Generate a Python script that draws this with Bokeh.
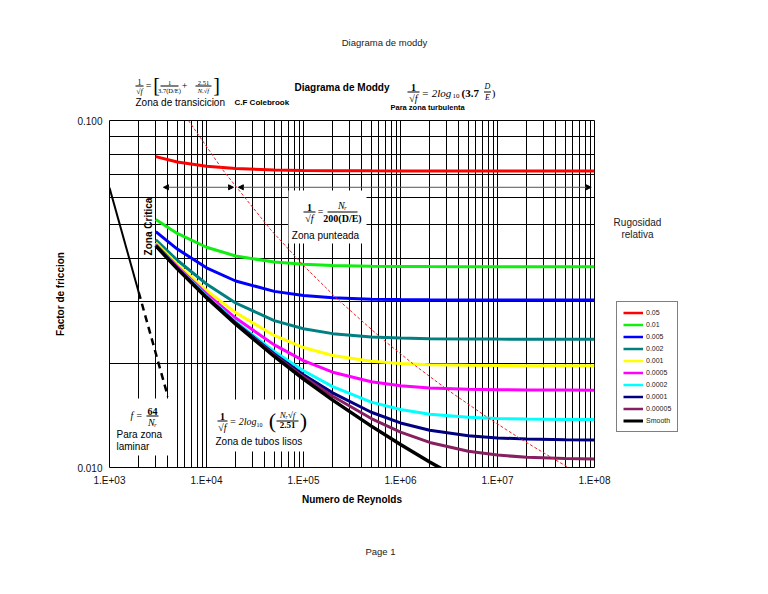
from bokeh.plotting import figure
from bokeh.layouts import column, row
from bokeh.models import (Range1d, FixedTicker, CustomJSTickFormatter, Label, BoxAnnotation,
                          Arrow, NormalHead, Legend, LegendItem)
from bokeh.embed import file_html
from bokeh.resources import INLINE

# ---------------- data ----------------
reynolds = [3000, 5000, 1e4, 2e4, 5e4, 1e5, 2e5, 5e5, 1e6, 2e6, 5e6, 1e7, 2e7, 5e7, 1e8]

series_names = ["0.05", "0.01", "0.005", "0.002", "0.001", "0.0005", "0.0002", "0.0001", "0.00005", "Smooth"]

f_0_05 = [0.07867, 0.07594, 0.07380, 0.07269, 0.07201, 0.07178, 0.07167, 0.07160, 0.07158, 0.07157, 0.07157, 0.07157, 0.07156, 0.07156, 0.07156]
f_0_01 = [0.05187, 0.04726, 0.04313, 0.04070, 0.03908, 0.03850, 0.03821, 0.03803, 0.03796, 0.03793, 0.03792, 0.03791, 0.03791, 0.03791, 0.03791]
f_0_005 = [0.04784, 0.04261, 0.03763, 0.03447, 0.03218, 0.03131, 0.03085, 0.03056, 0.03047, 0.03042, 0.03039, 0.03038, 0.03037, 0.03037, 0.03037]
f_0_002 = [0.04529, 0.03956, 0.03379, 0.02979, 0.02650, 0.02511, 0.02431, 0.02379, 0.02361, 0.02351, 0.02346, 0.02344, 0.02343, 0.02342, 0.02342]
f_0_001 = [0.04441, 0.03849, 0.03238, 0.02794, 0.02402, 0.02217, 0.02103, 0.02024, 0.01994, 0.01979, 0.01970, 0.01967, 0.01965, 0.01964, 0.01964]
f_0_0005 = [0.04397, 0.03794, 0.03164, 0.02695, 0.02256, 0.02033, 0.01882, 0.01766, 0.01721, 0.01696, 0.01680, 0.01675, 0.01673, 0.01672, 0.01671]
f_0_0002 = [0.04372, 0.03760, 0.03119, 0.02631, 0.02159, 0.01900, 0.01710, 0.01543, 0.01469, 0.01424, 0.01395, 0.01384, 0.01379, 0.01375, 0.01374]
f_0_0001 = [0.04361, 0.03752, 0.03104, 0.02610, 0.02124, 0.01851, 0.01641, 0.01443, 0.01344, 0.01280, 0.01234, 0.01217, 0.01208, 0.01202, 0.01200]
f_0_00005 = [0.04356, 0.03745, 0.03097, 0.02599, 0.02107, 0.01825, 0.01604, 0.01384, 0.01265, 0.01181, 0.01114, 0.01086, 0.01070, 0.01061, 0.01058]
f_smooth = [0.04353, 0.03738, 0.03087, 0.02589, 0.02089, 0.01799, 0.01564, 0.01316, 0.011645, 0.010373, 0.00898, 0.00810, 0.00734, 0.00649, 0.00594]

laminar_re = [1000, 2000]
laminar_f = [0.064, 0.032]
laminar_ext_re = [2000, 4000]
laminar_ext_f = [0.032, 0.016]

boundary_re = [6513, 14953, 45344, 102720, 229536, 653440, 1427280, 3095360, 8534400, 18272800, 38953600, 54000000]
boundary_f = [0.1000, 0.0716, 0.04864, 0.0379, 0.03037, 0.02342, 0.019635, 0.0167, 0.01373, 0.01198, 0.010544, 0.0100]

x_ticks = [1e3, 1e4, 1e5, 1e6, 1e7, 1e8]
x_tick_labels = ["1.E+03", "1.E+04", "1.E+05", "1.E+06", "1.E+07", "1.E+08"]
x_minor = [2e3, 3e3, 4e3, 5e3, 6e3, 7e3, 8e3, 9e3,
           2e4, 3e4, 4e4, 5e4, 6e4, 7e4, 8e4, 9e4,
           2e5, 3e5, 4e5, 5e5, 6e5, 7e5, 8e5, 9e5,
           2e6, 3e6, 4e6, 5e6, 6e6, 7e6, 8e6, 9e6,
           2e7, 3e7, 4e7, 5e7, 6e7, 7e7, 8e7, 9e7]
y_ticks = [0.01, 0.1]
y_tick_labels = ["0.010", "0.100"]
y_minor = [0.02, 0.03, 0.04, 0.05, 0.06, 0.07, 0.08, 0.09]

arrow_f = 0.0642
arrow_transition = [3600, 19000]
arrow_turbulent = [21300, 9.25e7]

colors = ["#ff0000", "#11ee11", "#0000ff", "#008080", "#ffff00", "#ff00ff", "#00ffff", "#000080", "#862060", "#000000"]
series = [f_0_05, f_0_01, f_0_005, f_0_002, f_0_001, f_0_0005, f_0_0002, f_0_0001, f_0_00005, f_smooth]

SANS = "Liberation Sans"
SERIF = "Liberation Serif"

# page layout (pixels)
TOP_H = 112          # header strip
MID_H = 408          # chart row (page y 112 .. 520)
BOT_H = 594 - TOP_H - MID_H
CHART_W = 612
RIGHT_W = 768 - CHART_W
FRAME_BOTTOM = 467   # page y of the plot frame bottom


def blank(w, h):
    f = figure(width=w, height=h, x_range=Range1d(0, 1), y_range=Range1d(0, 1),
               min_border=0, x_axis_location=None, y_axis_location=None,
               output_backend="svg", toolbar_location=None, title=None)
    f.outline_line_color = None
    f.background_fill_color = "white"
    f.border_fill_color = "white"
    f.grid.visible = False
    return f


class Painter:
    """Places annotations with page-pixel coordinates on a figure whose frame
    starts at page x = left and ends at page y = bottom."""

    def __init__(self, fig, left, bottom):
        self.f, self.left, self.bottom = fig, left, bottom

    def txt(self, px, py, s, size=10, style="normal", align="left", baseline="middle",
            font=SANS, angle=0, color="black"):
        self.f.add_layout(Label(x=px - self.left, y=self.bottom - py, x_units="screen", y_units="screen",
                                text=s, text_font=font, text_font_size=f"{size}px",
                                text_font_style=style, text_align=align, text_baseline=baseline,
                                angle=angle, angle_units="deg", text_color=color))

    def box(self, px0, px1, py0, py1, color="white", level="annotation"):
        self.f.add_layout(BoxAnnotation(left=px0 - self.left, right=px1 - self.left,
                                        top=self.bottom - py0, bottom=self.bottom - py1,
                                        left_units="screen", right_units="screen",
                                        top_units="screen", bottom_units="screen",
                                        fill_color=color, fill_alpha=1, line_color=None, level=level))

    def frac(self, cx, py, num, den, size, half, nstyle="normal", dstyle="italic"):
        self.txt(cx, py - 0.5, num, size, nstyle, "center", "bottom", SERIF)
        self.txt(cx, py + 1.5, den, size, dstyle, "center", "top", SERIF)
        self.box(cx - half, cx + half, py, py + 1, color="black")


# ---------------- header strip ----------------
top = blank(768, TOP_H)
T = Painter(top, 0, TOP_H)
T.txt(384, 42, "Diagrama de moddy", 9.5, align="center", color="#222222")

# Colebrook (transition zone)
T.frac(139, 85, "1", "\u221af", 8, 4)
T.txt(148, 85, "=", 10, align="center", font=SERIF)
T.txt(156, 84, "[", 20, align="center", font=SERIF)
T.frac(169, 85, "1", "3.7(D/E)", 6.5, 9, dstyle="normal")
T.txt(184, 85, "+", 10, align="center", font=SERIF)
T.frac(203, 85, "2.51", "N\u1d63\u221af", 6.5, 8)
T.txt(216, 84, "]", 20, align="center", font=SERIF)
T.txt(135, 102, "Zona de transicicion", 10)
T.txt(234, 102, "C.F Colebrook", 8, "bold")

T.txt(294, 87, "Diagrama de Moddy", 10, "bold")

# turbulent zone equation
T.frac(413, 91, "1", "\u221af", 10, 6, nstyle="bold")
T.txt(421, 92, "= 2log", 11, "italic", font=SERIF)
T.txt(452, 95, "10", 7, font=SERIF)
T.txt(461, 92, "(3.7", 11, "bold", font=SERIF)
T.frac(487, 91, "D", "E", 8, 3.5, nstyle="italic")
T.txt(493, 92, ")", 11, align="center", font=SERIF)
T.txt(390, 107, "Para zona turbulenta", 7.5, "bold")

# ---------------- chart ----------------
p = figure(width=CHART_W, height=MID_H, x_axis_type="log", y_axis_type="log",
           x_range=Range1d(1e3, 1e8), y_range=Range1d(0.01, 0.1),
           output_backend="svg", toolbar_location=None, title=None,
           min_border_left=109, min_border_right=CHART_W - 594,
           min_border_top=120 - TOP_H, min_border_bottom=TOP_H + MID_H - FRAME_BOTTOM)
p.background_fill_color = "white"
p.border_fill_color = "white"
p.outline_line_color = "black"
p.outline_line_width = 1

p.xaxis.ticker = FixedTicker(ticks=x_ticks, minor_ticks=x_minor)
p.yaxis.ticker = FixedTicker(ticks=y_ticks, minor_ticks=y_minor)
p.xaxis.formatter = CustomJSTickFormatter(args=dict(t=x_ticks, l=x_tick_labels), code="""
const i = t.findIndex(v => Math.abs(Math.log10(v) - Math.log10(tick)) < 1e-6);
return i >= 0 ? l[i] : '';""")
p.yaxis.formatter = CustomJSTickFormatter(args=dict(t=y_ticks, l=y_tick_labels), code="""
const i = t.findIndex(v => Math.abs(Math.log10(v) - Math.log10(tick)) < 1e-6);
return i >= 0 ? l[i] : '';""")
for ax in (p.xaxis, p.yaxis):
    ax.major_tick_line_color = None
    ax.minor_tick_line_color = None
    ax.major_tick_out = 0
    ax.major_tick_in = 0
    ax.minor_tick_out = 0
    ax.minor_tick_in = 0
    ax.axis_line_color = None
    ax.major_label_text_font = SANS
    ax.major_label_text_font_size = "10px"
    ax.major_label_text_color = "#111111"
    ax.major_label_standoff = 7
    ax.axis_label_text_font = SANS
    ax.axis_label_text_font_size = "10px"
    ax.axis_label_text_font_style = "bold"
    ax.axis_label_text_color = "black"
p.xaxis.axis_label_standoff = 5
p.yaxis.axis_label_standoff = 8
p.xaxis.axis_label = "Numero de Reynolds"
p.yaxis.axis_label = "Factor de friccion"

for g in (p.xgrid, p.ygrid):
    g.grid_line_color = "black"
    g.grid_line_width = 1
    g.minor_grid_line_color = "black"
    g.minor_grid_line_width = 1

C = Painter(p, 109, FRAME_BOTTOM)
# white backgrounds behind the in-plot equations (over the grid, under the curves)
C.box(288, 366, 190, 243, level="underlay")
C.box(114, 169, 398, 455, level="underlay")
C.box(212, 310, 399, 451, level="underlay")

for name, vals, c in zip(series_names, series, colors):
    p.line(reynolds, vals, line_color=c, line_width=3.5 if name == "Smooth" else 3)

p.line(laminar_re, laminar_f, line_color="black", line_width=2)
p.line(laminar_ext_re, laminar_ext_f, line_color="black", line_width=2.5, line_dash="7 5")
p.line(boundary_re, boundary_f, line_color="#ee2222", line_width=1, line_dash="3 2")

for xs in (arrow_transition, arrow_turbulent):
    p.add_layout(Arrow(start=NormalHead(size=5, fill_color="black", line_color="black"),
                       end=NormalHead(size=5, fill_color="black", line_color="black"),
                       x_start=xs[0], y_start=arrow_f, x_end=xs[1], y_end=arrow_f,
                       line_color="#555555", line_width=1))

# zona punteada
C.frac(309, 211, "1", "\u221af", 10, 6, nstyle="bold")
C.txt(320, 211, "=", 10, align="center", font=SERIF)
C.frac(342, 211, "N\u1d63", "200(D/E)", 10, 15, nstyle="italic", dstyle="bold")
C.txt(325, 235, "Zona punteada", 10, align="center")
# laminar
C.txt(142, 415, "f =", 10, "italic", align="right", font=SERIF)
C.frac(152, 415, "64", "N\u1d63", 10, 6, nstyle="bold")
C.txt(116, 434, "Para zona", 10)
C.txt(116, 446, "laminar", 10)
# smooth pipes
C.frac(222, 420, "1", "\u221af", 10, 5, nstyle="bold")
C.txt(229, 421, "= 2log", 10, "italic", font=SERIF)
C.txt(256, 424, "10", 6, font=SERIF)
C.txt(272, 420, "(", 22, align="center", font=SERIF)
C.frac(287, 420, "N\u1d63\u221af", "2.51", 9, 11, nstyle="italic", dstyle="bold")
C.txt(303, 420, ")", 22, align="center", font=SERIF)
C.txt(215, 441, "Zona de tubos lisos", 10)
# critical zone
C.txt(148, 226, "Zona Critica", 10, "bold", align="center", angle=90)

# ---------------- right strip: legend ----------------
rs = blank(RIGHT_W, MID_H)
R = Painter(rs, CHART_W, FRAME_BOTTOM)   # its frame is aligned with the chart frame
R.txt(637, 222, "Rugosidad", 10, align="center", color="#222222")
R.txt(637, 234, "relativa", 10, align="center", color="#222222")
legend_renderers = []
for name, c in zip(series_names, colors):
    # legend proxies: a single NaN point, nothing is drawn in the strip itself
    legend_renderers.append(rs.line(x=[float("nan")], y=[float("nan")], line_color=c,
                                    line_width=3 if name == "Smooth" else 2.5))
legend = Legend(items=[LegendItem(label=n, renderers=[r]) for n, r in zip(series_names, legend_renderers)],
                location=(616 - CHART_W, FRAME_BOTTOM - 432), margin=0, padding=6, spacing=3,
                glyph_width=20, glyph_height=9, label_height=9, label_standoff=3,
                label_text_font=SANS, label_text_font_size="7px",
                label_text_color="#222222", border_line_color="black", border_line_width=1,
                background_fill_color="white", background_fill_alpha=1)
rs.add_layout(legend, "center")

# ---------------- footer strip ----------------
bot = blank(768, BOT_H)
B = Painter(bot, 0, 594)
B.txt(380, 551, "Page 1", 9.5, align="center", color="#222222")

layout = column(top, row(p, rs), bot)
open("out.html", "w").write(file_html(layout, INLINE))
